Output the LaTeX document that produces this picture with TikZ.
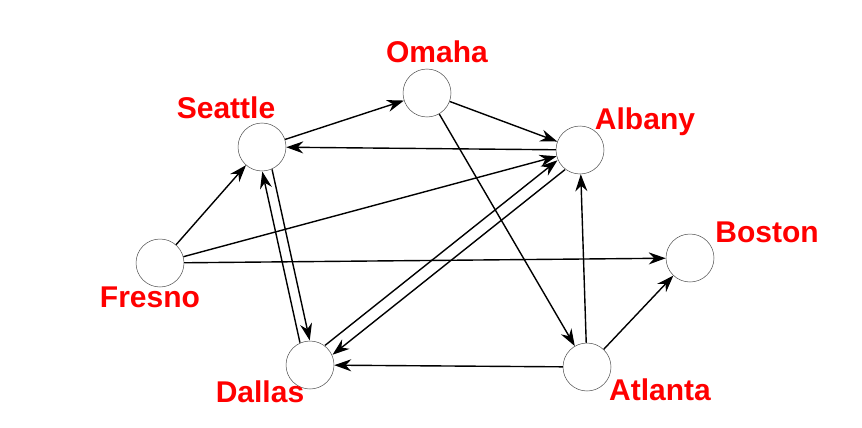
\documentclass[tikz,border=0pt]{standalone}
\usepackage{fontspec}
\setmainfont{Liberation Sans}
\usetikzlibrary{calc,arrows.meta}
\begin{document}
\begin{tikzpicture}[x=1pt,y=-1pt,
  city/.style={circle,draw=black!70,line width=0.5pt,minimum size=48pt,inner sep=0pt},
  lab/.style={text=red,font=\bfseries\fontsize{30}{36}\selectfont},
  arr/.style={-{Stealth[length=17pt,width=12pt]},line width=1.4pt},
  carr/.style={arr,shorten >=24pt,shorten <=24pt}]
\useasboundingbox (0,0) rectangle (862,428);
\node[city] (se) at (262,147) {};
\node[city] (om) at (427,93) {};
\node[city] (al) at (580,150) {};
\node[city] (bo) at (690,258) {};
\node[city] (fr) at (160,263) {};
\node[city] (da) at (310,365) {};
\node[city] (at) at (587,367) {};
\node[lab] (lse) at (226,108) {Seattle};
\node[lab] (lom) at (437,52) {Omaha};
\node[lab] (lal) at (645,122) {Albany};
\node[lab] (lbo) at (767,232) {Boston};
\node[lab] (lfr) at (150,297) {Fresno};
\node[lab] (lda) at (260,392) {Dallas};
\node[lab] (lat) at (660,390) {Atlanta};
\draw[arr] (se) -- (om);
\draw[arr] (om) -- (al);
\draw[arr] (al) -- (se);
\draw[arr] (fr) -- (se);
\draw[arr] (fr) -- (al);
\draw[arr] (fr) -- (bo);
\draw[arr] (om) -- (at);
\draw[arr] (at) -- (da);
\draw[arr] (at) -- (al);
\draw[arr] (at) -- (bo);
\draw[carr] ($(se)!5pt!90:(da)$) -- ($(da)!5pt!-90:(se)$);
\draw[carr] ($(da)!5pt!90:(se)$) -- ($(se)!5pt!-90:(da)$);
\draw[carr] ($(al)!6pt!90:(da)$) -- ($(da)!6pt!-90:(al)$);
\draw[carr] ($(da)!6pt!90:(al)$) -- ($(al)!6pt!-90:(da)$);
\end{tikzpicture}
\end{document}
